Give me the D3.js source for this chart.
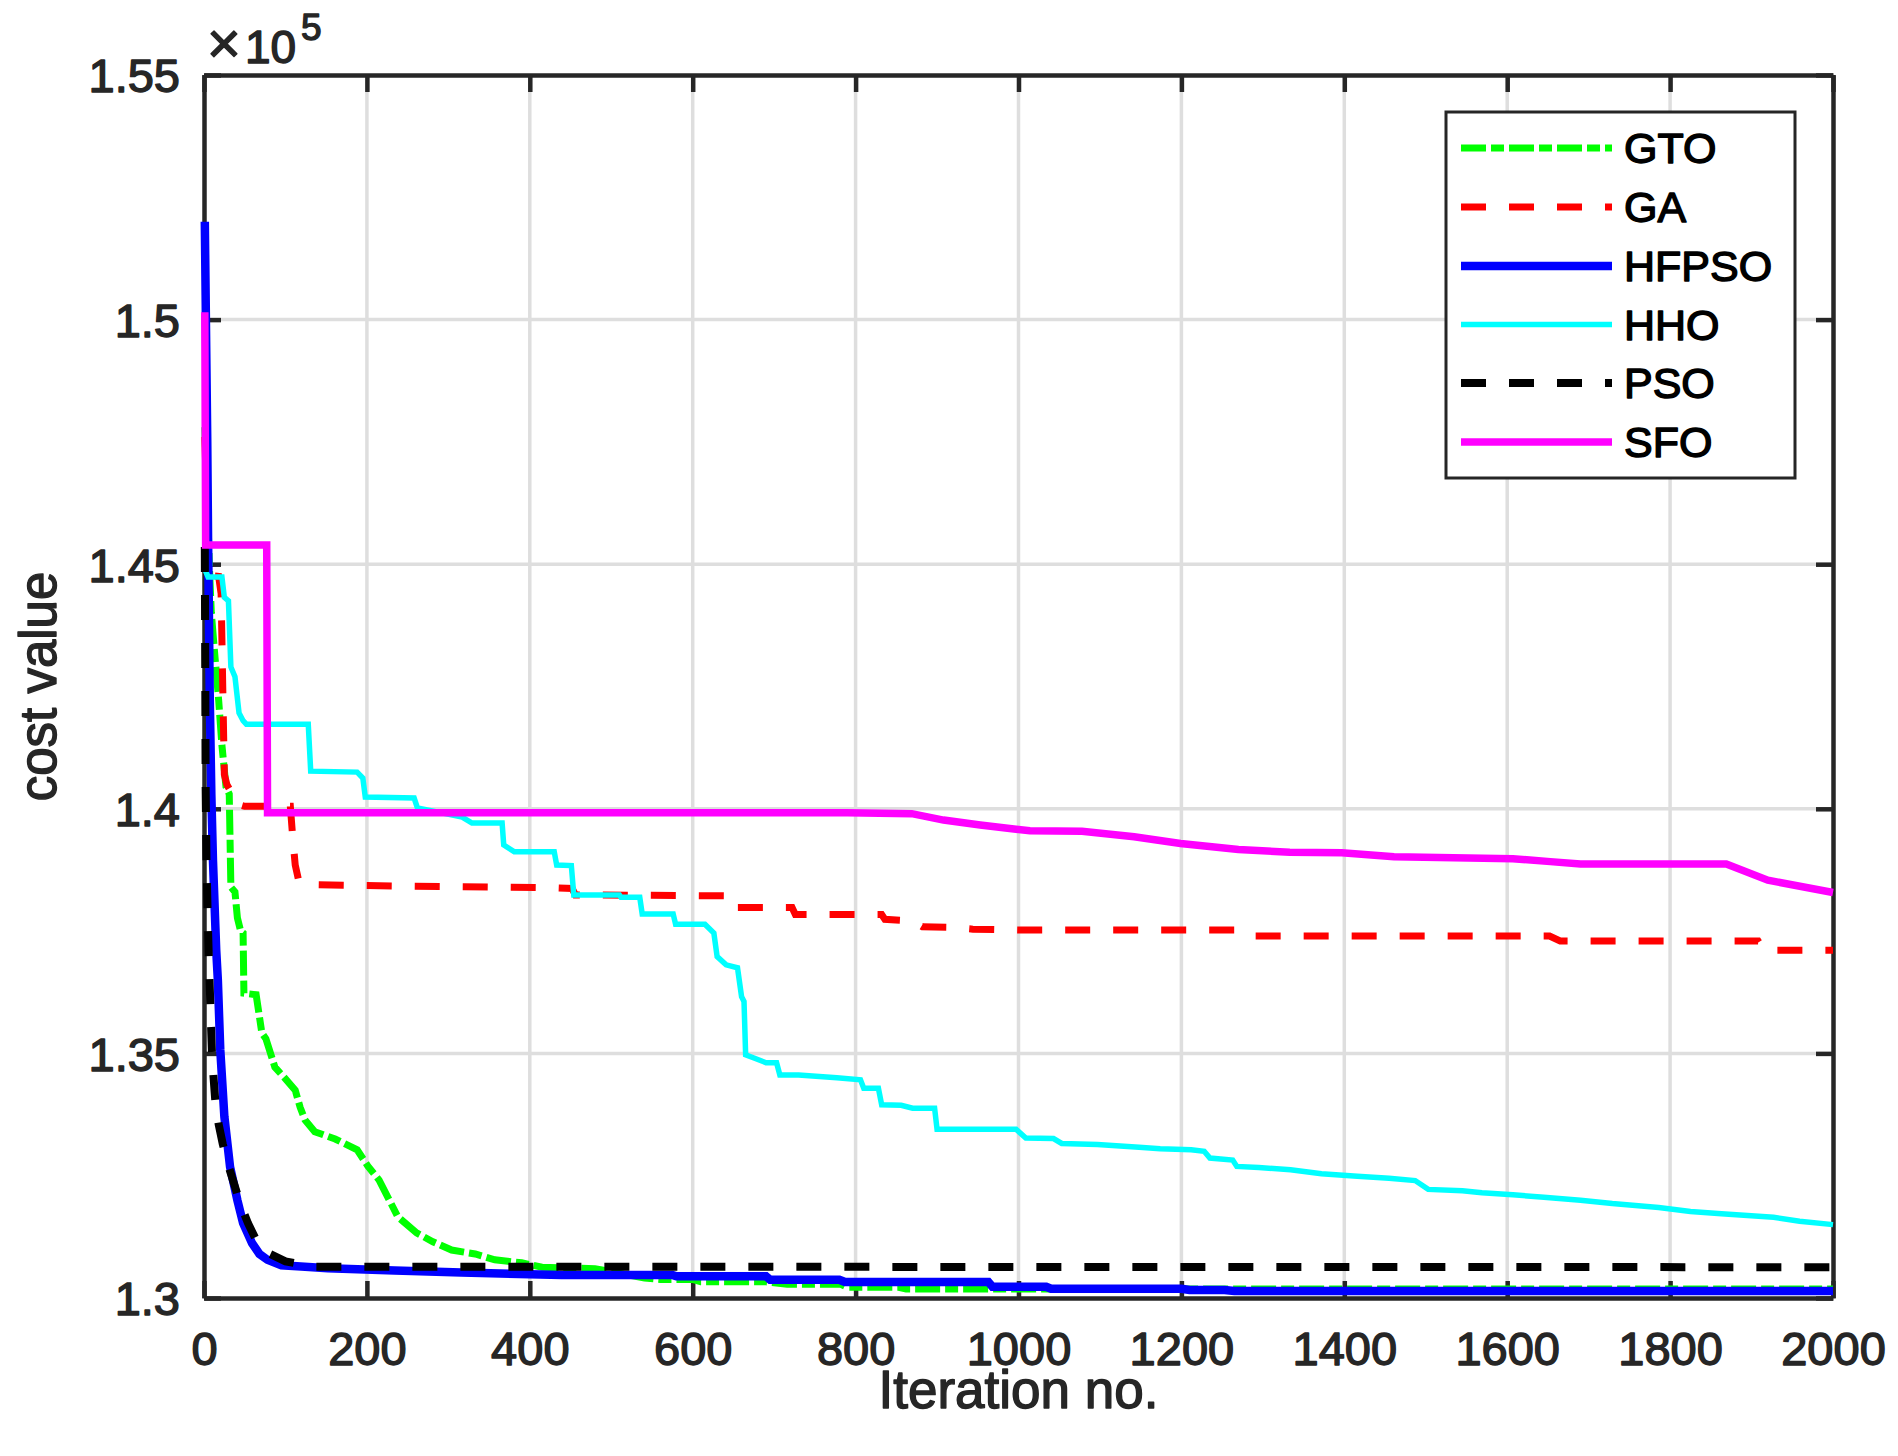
<!DOCTYPE html>
<html>
<head>
<meta charset="utf-8">
<script src="https://cdn.jsdelivr.net/npm/d3@7"></script>
<style>
  html, body { margin: 0; padding: 0; background: #ffffff; }
  svg { display: block; }
  text { font-family: "Liberation Sans", Arial, Helvetica, sans-serif; }
</style>
</head>
<body>
<svg id="chart" width="1898" height="1456"></svg>
<script>
// ---------------- DATA (cost values in units of 1e5) ----------------
const yExponent = 5;
const xTicks = [0, 200, 400, 600, 800, 1000, 1200, 1400, 1600, 1800, 2000];
const xTickLabels = ["0", "200", "400", "600", "800", "1000", "1200", "1400", "1600", "1800", "2000"];
const yTicks = [1.3, 1.35, 1.4, 1.45, 1.5, 1.55];
const yTickLabels = ["1.3", "1.35", "1.4", "1.45", "1.5", "1.55"];
const xLabel = "Iteration no.";
const yLabel = "cost value";
const seriesNames = ["GTO", "GA", "HFPSO", "HHO", "PSO", "SFO"];

// [iteration, cost (x1e5)]
const GTO = [[1,1.478],[3,1.468],[5,1.458],[7,1.448],[9,1.44],[13,1.432],[18,1.4222],[22,1.413],[27,1.4045],[31,1.403],[33,1.384],[38,1.383],[41,1.3777],[45,1.375],[48,1.3746],[49,1.3623],[64,1.362],[71,1.3542],[76,1.3530],[87,1.3472],[100,1.3448],[112,1.3425],[118,1.3390],[124,1.3364],[136,1.334],[161,1.3325],[188,1.3303],[201,1.3270],[215,1.3241],[238,1.3166],[261,1.3133],[281,1.3115],[304,1.3098],[333,1.3090],[357,1.3078],[390,1.3072],[415,1.3063],[480,1.3060],[505,1.3052],[541,1.3041],[560,1.3038],[600,1.3038],[610,1.3033],[690,1.3033],[716,1.3028],[782,1.3028],[790,1.3022],[853,1.3022],[862,1.30185],[2000,1.30185]];

const GA = [[1,1.476],[6,1.4478],[18,1.4475],[21,1.444],[23,1.425],[25,1.407],[28,1.405],[33,1.4035],[40,1.401],[50,1.4005],[106,1.4005],[109,1.394],[112,1.3885],[116,1.3855],[125,1.3845],[200,1.3843],[420,1.3839],[452,1.3837],[456,1.3824],[650,1.3822],[654,1.3798],[722,1.3798],[726,1.3784],[832,1.3784],[836,1.3774],[870,1.3771],[882,1.3759],[915,1.3758],[944,1.3754],[1000,1.3752],[1272,1.3752],[1285,1.3740],[1652,1.3740],[1665,1.3730],[1908,1.3730],[1915,1.3711],[2000,1.3711]];

const HFPSO = [[1,1.52],[2,1.505],[3,1.49],[4,1.475],[5,1.455],[6,1.44],[7,1.4237],[9,1.403],[11,1.3895],[15,1.3711],[17,1.365],[20,1.3507],[25,1.3371],[32,1.3268],[41,1.32],[48,1.3153],[59,1.3112],[68,1.309],[78,1.3078],[95,1.3067],[152,1.3061],[234,1.3056],[316,1.3052],[439,1.3047],[575,1.3047],[580,1.30443],[690,1.30443],[695,1.30374],[780,1.30374],[787,1.30327],[963,1.30327],[968,1.30231],[1034,1.30231],[1040,1.3019],[1200,1.3019],[1210,1.30164],[1253,1.30164],[1265,1.30143],[2000,1.30143]];

const HHO = [[1,1.4490],[5,1.4474],[22,1.4474],[25,1.4432],[30,1.4425],[33,1.4290],[38,1.4270],[43,1.4196],[48,1.4180],[52,1.4173],[128,1.4173],[131,1.4077],[188,1.4075],[195,1.4063],[198,1.4024],[258,1.4022],[262,1.4002],[317,1.3983],[329,1.3971],[366,1.3971],[368,1.3926],[381,1.3912],[430,1.3912],[433,1.3885],[451,1.3884],[454,1.3824],[510,1.3824],[512,1.3819],[535,1.3819],[538,1.3785],[576,1.3785],[579,1.3764],[615,1.3764],[626,1.3746],[630,1.3698],[641,1.3681],[655,1.3675],[660,1.3616],[663,1.3606],[665,1.3497],[676,1.3490],[690,1.3481],[703,1.3481],[707,1.3456],[730,1.3456],[777,1.3450],[806,1.3446],[810,1.3429],[828,1.3429],[832,1.3395],[856,1.3394],[870,1.3388],[897,1.3388],[900,1.3345],[997,1.3345],[1009,1.3327],[1043,1.3326],[1053,1.3316],[1097,1.3314],[1148,1.3308],[1174,1.3305],[1212,1.3303],[1228,1.3300],[1235,1.3286],[1263,1.3282],[1268,1.3269],[1295,1.3267],[1334,1.3262],[1372,1.3254],[1416,1.3249],[1455,1.3245],[1487,1.3240],[1503,1.3222],[1545,1.3219],[1569,1.3215],[1607,1.3211],[1645,1.3206],[1690,1.3200],[1729,1.3193],[1786,1.3185],[1825,1.3177],[1863,1.3172],[1927,1.3165],[1959,1.3157],[2000,1.3150]];

const PSO = [[1,1.4535],[2,1.405],[3,1.39],[4,1.382],[5,1.375],[6,1.369],[8,1.359],[10,1.349],[14,1.340],[18,1.3355],[23,1.3315],[30,1.327],[37,1.3233],[45,1.319],[54,1.3153],[65,1.3115],[81,1.309],[100,1.3075],[136,1.3064],[2000,1.3063]];

const SFO = [[1,1.5015],[2,1.4539],[77,1.4539],[78,1.3992],[790,1.3992],[869,1.3990],[908,1.3977],[953,1.3967],[997,1.3958],[1014,1.3955],[1078,1.3954],[1142,1.3943],[1199,1.3929],[1270,1.3917],[1333,1.3911],[1397,1.3910],[1461,1.3902],[1607,1.3898],[1653,1.3892],[1690,1.3887],[1869,1.3887],[1920,1.3854],[2000,1.3829]];

// ---------------- STYLE ----------------
const styles = {
  GTO:   { data: GTO,   color: "#00ff00", width: 7,   dash: "25,5,13,5" },
  GA:    { data: GA,    color: "#ff0000", width: 7,   dash: "25,23" },
  HFPSO: { data: HFPSO, color: "#0000ff", width: 8.5, dash: null },
  HHO:   { data: HHO,   color: "#00ffff", width: 5.5, dash: null },
  PSO:   { data: PSO,   color: "#000000", width: 8,   dash: "25,23" },
  SFO:   { data: SFO,   color: "#ff00ff", width: 7.5, dash: null }
};

const L = 204, R = 1833, T = 75, B = 1298;
const axisColor = "#262626";
const svg = d3.select("#chart");

const x = d3.scaleLinear().domain([0, 2000]).range([L, R]);
const y = d3.scaleLinear().domain([1.3, 1.55]).range([B, T]);

function heavy(sel, color, w) {
  sel.attr("stroke", color).attr("stroke-width", w).attr("stroke-linejoin", "round")
     .style("paint-order", "stroke");
}

// grid
const grid = svg.append("g");
grid.selectAll("line.gx").data(xTicks.slice(1, -1)).enter().append("line")
  .attr("x1", d => x(d)).attr("x2", d => x(d)).attr("y1", T).attr("y2", B)
  .attr("stroke", "#dedede").attr("stroke-width", 3.5);
grid.selectAll("line.gy").data(yTicks.slice(1, -1)).enter().append("line")
  .attr("y1", d => y(d)).attr("y2", d => y(d)).attr("x1", L).attr("x2", R)
  .attr("stroke", "#dedede").attr("stroke-width", 3.5);

// axes with inward ticks (bottom/left with labels, top/right ticks only)
const tickLen = 17;
const fmtY = (d) => yTickLabels[yTicks.indexOf(d)];
const fmtX = (d) => xTickLabels[xTicks.indexOf(d)];
const axB = svg.append("g").attr("transform", `translate(0,${B})`)
  .call(d3.axisBottom(x).tickValues(xTicks).tickSizeInner(-tickLen).tickSizeOuter(0).tickPadding(34).tickFormat(fmtX));
const axT = svg.append("g").attr("transform", `translate(0,${T})`)
  .call(d3.axisTop(x).tickValues(xTicks).tickSizeInner(-tickLen).tickSizeOuter(0).tickFormat(""));
const axLft = svg.append("g").attr("transform", `translate(${L},0)`)
  .call(d3.axisLeft(y).tickValues(yTicks).tickSizeInner(-tickLen).tickSizeOuter(0).tickPadding(24).tickFormat(fmtY));
const axRt = svg.append("g").attr("transform", `translate(${R},0)`)
  .call(d3.axisRight(y).tickValues(yTicks).tickSizeInner(-tickLen).tickSizeOuter(0).tickFormat(""));

[axB, axT, axLft, axRt].forEach(a => {
  a.select(".domain").attr("stroke", axisColor).attr("stroke-width", 4.5);
  a.selectAll(".tick line").attr("stroke", axisColor).attr("stroke-width", 4.5);
  const t = a.selectAll(".tick text").attr("fill", axisColor).attr("font-size", 47)
    .style("font-family", '"Liberation Sans", Arial, sans-serif');
  heavy(t, axisColor, 1.4);
});
axB.selectAll(".tick text").attr("dy", "0.71em");
axLft.selectAll(".tick text").attr("dy", "0.36em");

// exponent label
const ex = svg.append("text").attr("x", 207).attr("y", 63).attr("fill", axisColor).attr("font-size", 46);
ex.append("tspan").attr("font-size", 58).text("\u00d7");
ex.append("tspan").attr("dx", 4).text("10");
ex.append("tspan").attr("font-size", 37).attr("dy", -23).attr("dx", 5).text(String(yExponent));
heavy(ex, axisColor, 1.4);

// axis labels
const xl = svg.append("text").attr("x", (L + R) / 2).attr("y", 1408).attr("text-anchor", "middle")
  .attr("fill", axisColor).attr("font-size", 53).text(xLabel);
heavy(xl, axisColor, 1.4);
const yl = svg.append("text").attr("transform", `translate(56,${(T + B) / 2}) rotate(-90)`)
  .attr("text-anchor", "middle").attr("fill", axisColor).attr("font-size", 51).text(yLabel);
heavy(yl, axisColor, 1.4);

// series
const line = d3.line().x(d => x(d[0])).y(d => y(d[1]));
const plot = svg.append("g");
seriesNames.forEach(name => {
  const s = styles[name];
  plot.append("path").datum(s.data).attr("d", line)
    .attr("fill", "none").attr("stroke", s.color).attr("stroke-width", s.width)
    .attr("stroke-linejoin", "miter").attr("stroke-linecap", "butt")
    .attr("stroke-dasharray", s.dash);
});

// legend
const lg = svg.append("g");
lg.append("rect").attr("x", 1446).attr("y", 112).attr("width", 349).attr("height", 366)
  .attr("fill", "#ffffff").attr("stroke", axisColor).attr("stroke-width", 3);
const rowY = [148, 207, 266, 324.5, 383, 442];
seriesNames.forEach((name, i) => {
  const s = styles[name];
  lg.append("line").attr("x1", 1461).attr("x2", 1612).attr("y1", rowY[i]).attr("y2", rowY[i])
    .attr("stroke", s.color).attr("stroke-width", s.width).attr("stroke-dasharray", s.dash);
  const t = lg.append("text").attr("x", 1624).attr("y", rowY[i] + 15).attr("fill", "#000000")
    .attr("font-size", 43).text(name);
  heavy(t, "#000000", 1.4);
});
</script>
</body>
</html>
